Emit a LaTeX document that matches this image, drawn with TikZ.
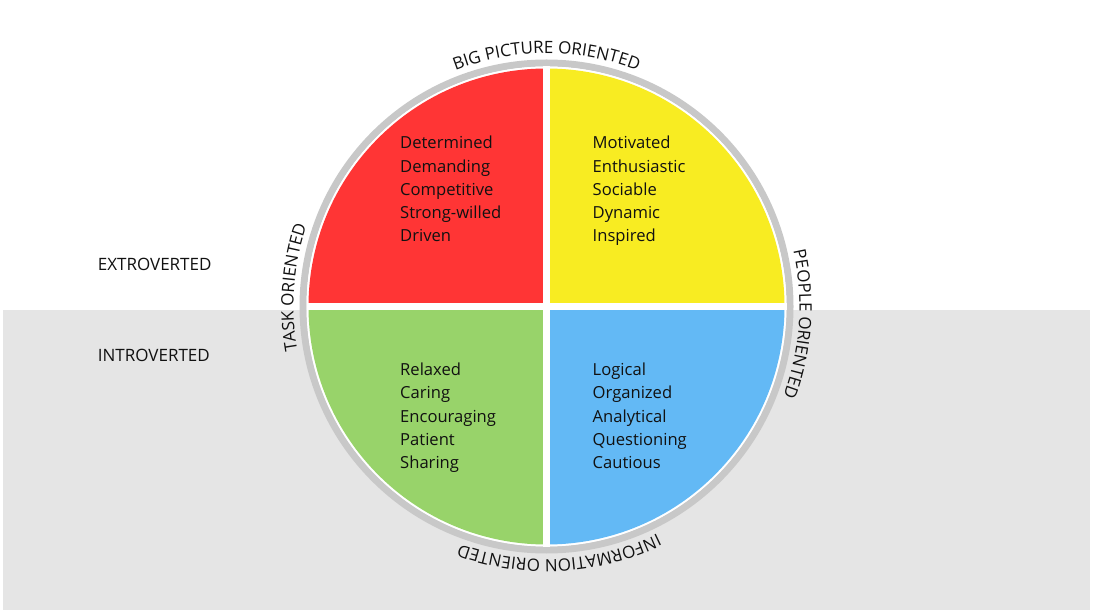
\documentclass[tikz,border=0pt]{standalone}
\usepackage{fontspec}
\setmainfont{Open Sans}
\usetikzlibrary{decorations.text,calc}
\definecolor{bandgray}{HTML}{E5E5E5}
\definecolor{ringgray}{HTML}{C8C8C8}
\definecolor{qred}{HTML}{FF3535}
\definecolor{qyellow}{HTML}{F8EC22}
\definecolor{qgreen}{HTML}{98D36A}
\definecolor{qblue}{HTML}{63B9F5}
\definecolor{ink}{HTML}{111111}
\tikzset{
  qtext/.style={anchor=base west, inner sep=0pt, align=left, text=ink,
    font=\fontsize{16.6pt}{23.2pt}\selectfont},
  sidetext/.style={anchor=base west, inner sep=0pt, text=ink,
    font=\fontsize{17pt}{21pt}\selectfont},
  arclabel/.style={decorate, decoration={text along path, text align=center,
    text={|\fontsize{17pt}{21pt}\selectfont\color{ink}|#1}}}
}
\begin{document}
\begin{tikzpicture}[x=1pt,y=1pt]
\useasboundingbox (0,0) rectangle (1093,614);
\fill[white] (0,0) rectangle (1093,614);
\fill[bandgray] (3,4) rectangle (1090,304);
\coordinate (c) at (546.5,307.5);
% ring
\draw[ringgray, line width=7pt] (c) circle[radius=243.5];
\fill[white] (c) circle[radius=240];
% quadrants
\fill[qred] (c) -- ++(180:238) arc[start angle=180, end angle=90, radius=238] -- cycle;
\fill[qyellow] (c) -- ++(90:238) arc[start angle=90, end angle=0, radius=238] -- cycle;
\fill[qblue] (c) -- ++(0:238) arc[start angle=0, end angle=-90, radius=238] -- cycle;
\fill[qgreen] (c) -- ++(270:238) arc[start angle=270, end angle=180, radius=238] -- cycle;
\draw[white, line width=6.5pt] ($(c)+(-240,0)$) -- ($(c)+(240,0)$);
\draw[white, line width=6.5pt] ($(c)+(0,-240)$) -- ($(c)+(0,240)$);
% quadrant texts (base anchor = last line)
\node[qtext] (red) at (400,372.2) {Determined\\Demanding\\Competitive\\Strong-willed\\Driven};
\node[qtext] (yellow) at (592.5,372.2) {Motivated\\Enthusiastic\\Sociable\\Dynamic\\Inspired};
\node[qtext] (green) at (400,145.5) {Relaxed\\Caring\\Encouraging\\Patient\\Sharing};
\node[qtext] (blue) at (592.5,145.5) {Logical\\Organized\\Analytical\\Questioning\\Cautious};
% side texts
\node[sidetext] (extro) at (97.7,343.3) {EXTROVERTED};
\node[sidetext] (intro) at (97.7,252.3) {INTROVERTED};
% arc labels
\path[arclabel={BIG PICTURE ORIENTED}] ($(c)+(150:253)$) arc[start angle=150, end angle=30, radius=253];
\path[arclabel={PEOPLE ORIENTED}] ($(c)+(56:253)$) arc[start angle=56, end angle=-64, radius=253];
\path[arclabel={INFORMATION ORIENTED}] ($(c)+(333:253)$) arc[start angle=333, end angle=213, radius=253];
\path[arclabel={TASK ORIENTED}] ($(c)+(235.7:253)$) arc[start angle=235.7, end angle=115.7, radius=253];
\end{tikzpicture}
\end{document}
